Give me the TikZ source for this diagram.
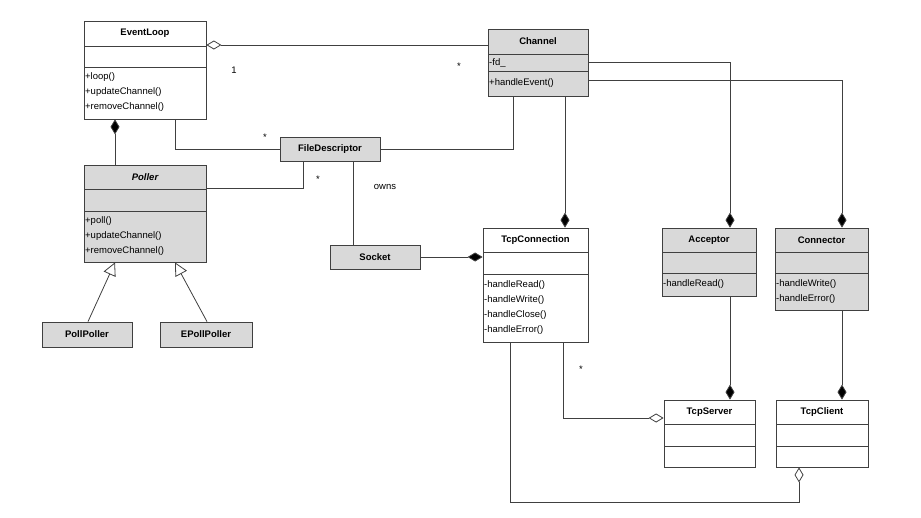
\documentclass[tikz,border=0pt]{standalone}
\usepackage{fontspec}
\setmainfont{Liberation Sans}
\usetikzlibrary{arrows.meta}
\definecolor{bx}{HTML}{D9D9D9}
\definecolor{ln}{HTML}{404040}
\begin{document}
\begin{tikzpicture}[x=1pt,y=-1pt,
  box/.style={draw=ln,line width=0.8pt,inner sep=0pt},
  gb/.style={box,fill=bx},
  wb/.style={box,fill=white},
  ttl/.style={font=\bfseries\fontsize{9.5}{11}\selectfont,inner sep=0pt},
  op/.style={anchor=west,font=\fontsize{9.5}{15}\selectfont,inner sep=1pt,align=left},
  lab/.style={font=\fontsize{9.5}{11}\selectfont,inner sep=0pt},
  con/.style={draw=ln,line width=0.8pt},
  comp/.style={-{Diamond[length=15pt,width=9pt,fill=black]}},
  agg/.style={-{Diamond[open,length=15pt,width=9pt,fill=white]}},
  inh/.style={-{Triangle[open,length=13pt,width=13pt,fill=white]}}]
\useasboundingbox (0,0) rectangle (921,517);
\newcommand\ubox[6]{% name, x1,y1,x2,y2, style
  \node[#6,minimum width=#4-#2,minimum height=#5-#3] (#1) at ({(#2+#4)/2},{(#3+#5)/2}) {};}
% EventLoop
\ubox{el}{84}{21}{206}{119}{wb}
\draw[ln,line width=0.8pt] (84,46)--(206,46) (84,67)--(206,67);
\node[ttl] (elt) at (145,33.5) {EventLoop};
\node[op] (elo) at (84,92) {+loop()\\+updateChannel()\\+removeChannel()};
% Channel
\ubox{ch}{488}{29}{588}{96}{gb}
\draw[ln,line width=0.8pt] (488,54)--(588,54) (488,71)--(588,71);
\node[ttl] (cht) at (538,41.5) {Channel};
\node[op] (cha) at (488,62.5) {-fd\_};
\node[op] (cho) at (488,83.5) {+handleEvent()};
% FileDescriptor
\ubox{fd}{280}{137}{380}{161}{gb}
\node[ttl] (fdt) at (330,149) {FileDescriptor};
% Poller
\ubox{po}{84}{165}{206}{262}{gb}
\draw[ln,line width=0.8pt] (84,189)--(206,189) (84,211)--(206,211);
\node[ttl,font=\bfseries\itshape\fontsize{9.5}{11}\selectfont] (pot) at (145,177) {Poller};
\node[op] (poo) at (84,236) {+poll()\\+updateChannel()\\+removeChannel()};
% PollPoller / EPollPoller
\ubox{pp}{42}{322}{132}{347}{gb}
\node[ttl] (ppt) at (87,334.5) {PollPoller};
\ubox{ep}{160}{322}{252}{347}{gb}
\node[ttl] (ept) at (206,334.5) {EPollPoller};
% Socket
\ubox{so}{330}{245}{420}{269}{gb}
\node[ttl] (sot) at (375,257) {Socket};
% TcpConnection
\ubox{tc}{483}{228}{588}{342}{wb}
\draw[ln,line width=0.8pt] (483,252)--(588,252) (483,274)--(588,274);
\node[ttl] (tct) at (535.5,240) {TcpConnection};
\node[op] (tco) at (483,308) {-handleRead()\\-handleWrite()\\-handleClose()\\-handleError()};
% Acceptor
\ubox{ac}{662}{228}{756}{296}{gb}
\draw[ln,line width=0.8pt] (662,252)--(756,252) (662,273)--(756,273);
\node[ttl] (act) at (709,240) {Acceptor};
\node[op] (aco) at (662,284.5) {-handleRead()};
% Connector
\ubox{cn}{775}{228}{868}{310}{gb}
\draw[ln,line width=0.8pt] (775,252)--(868,252) (775,273)--(868,273);
\node[ttl] (cnt) at (821.5,240) {Connector};
\node[op] (cno) at (775,291.5) {-handleWrite()\\-handleError()};
% TcpServer
\ubox{ts}{664}{400}{755}{467}{wb}
\draw[ln,line width=0.8pt] (664,424)--(755,424) (664,446)--(755,446);
\node[ttl] (tst) at (709.5,412) {TcpServer};
% TcpClient
\ubox{tcl}{776}{400}{868}{467}{wb}
\draw[ln,line width=0.8pt] (776,424)--(868,424) (776,446)--(868,446);
\node[ttl] (tclt) at (822,412) {TcpClient};
% connectors
\draw[con,agg] (ch.west|-0,45) -- (el.east|-0,45);
\node[lab] (l1) at (234,70) {1};
\node[lab] (l2) at (459,66) {*};
\draw[con] (el.south-|175,0) |- (fd.west|-0,149);
\node[lab] (l3) at (265,137) {*};
\draw[con,comp] (po.north-|115,0) -- (el.south-|115,0);
\draw[con] (po.east|-0,188) -| (fd.south-|303,0);
\node[lab] (l4) at (318,179) {*};
\draw[con] (ch.south-|513,0) |- (fd.east|-0,149);
\draw[con] (fd.south-|353,0) -- (so.north-|353,0);
\node[lab] (l5) at (385,187) {owns};
\draw[con,comp] (so.east) -- (tc.west|-so.east);
\draw[con,comp] (ch.south-|565,0) -- (tc.north-|565,0);
\draw[con,comp] (ch.east|-0,62) -| (ac.north-|730,0);
\draw[con,comp] (ch.east|-0,80) -| (cn.north-|842,0);
\draw[con,comp] (ac.south-|730,0) -- (ts.north-|730,0);
\draw[con,comp] (cn.south-|842,0) -- (tcl.north-|842,0);
\draw[con,agg] (tc.south-|563,0) |- (ts.west|-0,418);
\node[lab] (l6) at (581,369) {*};
\coordinate (bl) at (510,502);
\draw[con,agg] (tc.south-|510,0) -- (bl) -| (tcl.south-|799,0);
\draw[con,inh] (pp.north-|88,0) -- (po.south-|115,0);
\draw[con,inh] (ep.north-|207,0) -- (po.south-|175,0);
\end{tikzpicture}
\end{document}
